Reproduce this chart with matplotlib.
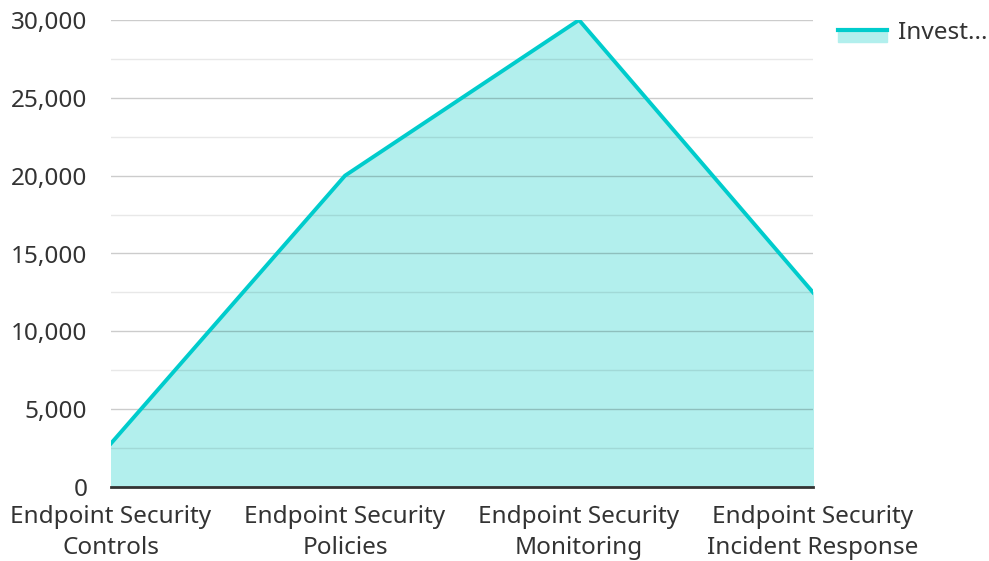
import matplotlib.pyplot as plt
from matplotlib.lines import Line2D
from matplotlib.patches import Patch, Rectangle
from matplotlib.legend_handler import HandlerBase
from matplotlib.ticker import MultipleLocator, FuncFormatter

categories = ["Endpoint Security\nControls", "Endpoint Security\nPolicies",
              "Endpoint Security\nMonitoring", "Endpoint Security\nIncident Response"]
investment = [2800, 20000, 30000, 12500]
series_name = "Invest..."

plt.rcParams["font.family"] = ["Noto Sans", "DejaVu Sans"]

line_col = "#00cccc"
fill_col = "#b2efed"

fig = plt.figure(figsize=(9.89, 5.61), dpi=100)
ax = fig.add_axes([111/989, 74/561, 702/989, 467/561])

x = list(range(len(categories)))
ax.fill_between(x, investment, 0, color=fill_col, zorder=2)
ax.plot(x, investment, color=line_col, linewidth=2.8, zorder=3)

ax.set_xlim(0, 3)
ax.set_ylim(0, 30000)
ax.yaxis.set_major_locator(MultipleLocator(5000))
ax.yaxis.set_minor_locator(MultipleLocator(2500))
ax.yaxis.set_major_formatter(FuncFormatter(lambda v, p: f"{int(v):,}"))
ax.grid(axis="y", which="major", color="black", alpha=0.2, linewidth=1, zorder=2.5)
ax.grid(axis="y", which="minor", color="black", alpha=0.09, linewidth=1, zorder=2.5)
ax.set_axisbelow(False)

ax.set_xticks(x)
ax.set_xticklabels(categories, linespacing=1.38)
ax.tick_params(axis="both", which="both", length=0, labelsize=17.5, colors="#333333")
ax.tick_params(axis="x", pad=13)
ax.tick_params(axis="y", pad=17)

for s in ["top", "right", "left"]:
    ax.spines[s].set_visible(False)
ax.spines["bottom"].set_color("#333333")
ax.spines["bottom"].set_linewidth(2)
ax.spines["bottom"].set_zorder(4)


class AreaHandler(HandlerBase):
    def create_artists(self, legend, orig, xd, yd, w, h, fs, trans):
        r = Rectangle((xd, yd - h * 0.2), w, h * 0.7, color=fill_col, transform=trans)
        l = Line2D([xd, xd + w], [yd + h * 0.5, yd + h * 0.5], color=line_col,
                   linewidth=3, transform=trans)
        return [r, l]


leg = fig.legend([Patch()], [series_name], handler_map={Patch: AreaHandler()},
                 loc="upper left", bbox_to_anchor=(838/989, 1 - 21/561),
                 frameon=False, fontsize=17.5, handlelength=2.0, handletextpad=0.45,
                 borderaxespad=0, borderpad=0)
for t in leg.get_texts():
    t.set_color("#333333")

plt.savefig("out.png", dpi=100)
